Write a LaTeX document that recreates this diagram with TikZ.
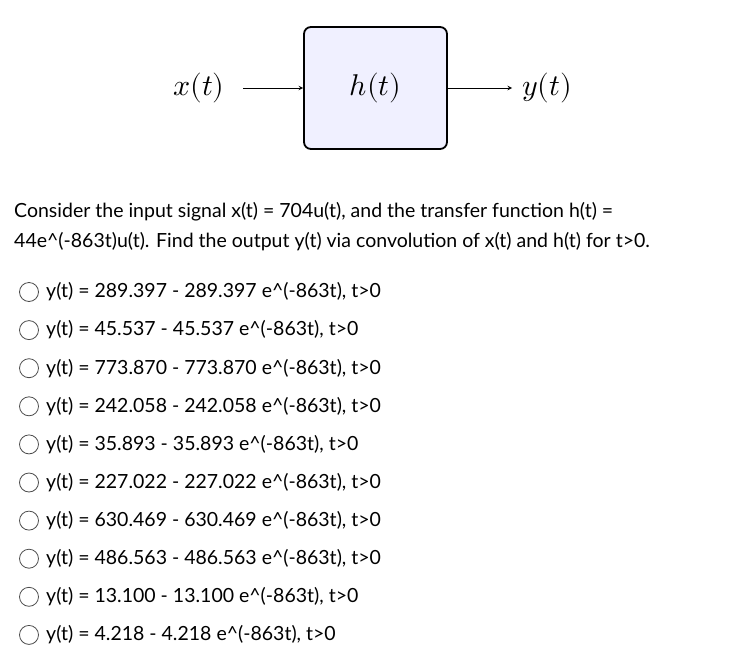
\documentclass[tikz,border=0pt]{standalone}
\usepackage{fontspec}
\setmainfont{Lato}
\usepackage{unicode-math}
\setmathfont{Latin Modern Math}
\begin{document}
\begin{tikzpicture}[x=1pt,y=-1pt,
  txt/.style={anchor=west,inner sep=0pt,font=\fontsize{19.5}{23}\selectfont},
  opt/.style={circle,draw=black!70,line width=0.8pt,minimum size=19pt,inner sep=0pt},
  sig/.style={font=\fontsize{30}{34}\selectfont},
  arr/.style={->,>=stealth,line width=1pt}]
\useasboundingbox (0,0) rectangle (736,664);
\node[draw,line width=1.8pt,rounded corners=7pt,fill=blue!6,minimum width=143pt,minimum height=122pt] (h) at (375.5,88) {};
\node[sig] (ht) at (h) {$h(t)$};
\node[sig] (x) at (199,88) {$x(t)$};
\node[sig] (y) at (547,88) {$y(t)$};
\coordinate (xs) at (243,88);
\coordinate (ye) at (512,88);
\draw[arr] (xs) -- (h.west);
\draw[arr] (h.east) -- (ye);
\node[txt] (q1) at (14,212) {Consider the input signal x(t) = 704u(t), and the transfer function h(t) =};
\node[txt] (q2) at (14,242) {44e\^{}(-863t)u(t). Find the output y(t) via convolution of x(t) and h(t) for t>0.};
\foreach \i/\t in {0/289.397 - 289.397, 1/45.537 - 45.537, 2/773.870 - 773.870, 3/242.058 - 242.058, 4/35.893 - 35.893, 5/227.022 - 227.022, 6/630.469 - 630.469, 7/486.563 - 486.563, 8/13.100 - 13.100, 9/4.218 - 4.218}{
  \node[opt] (c\i) at (29,{292+38.1*\i}) {};
  \node[txt] (o\i) at (46,{292+38.1*\i}) {y(t) = \t\ e\^{}(-863t), t>0};
}
\end{tikzpicture}
\end{document}
